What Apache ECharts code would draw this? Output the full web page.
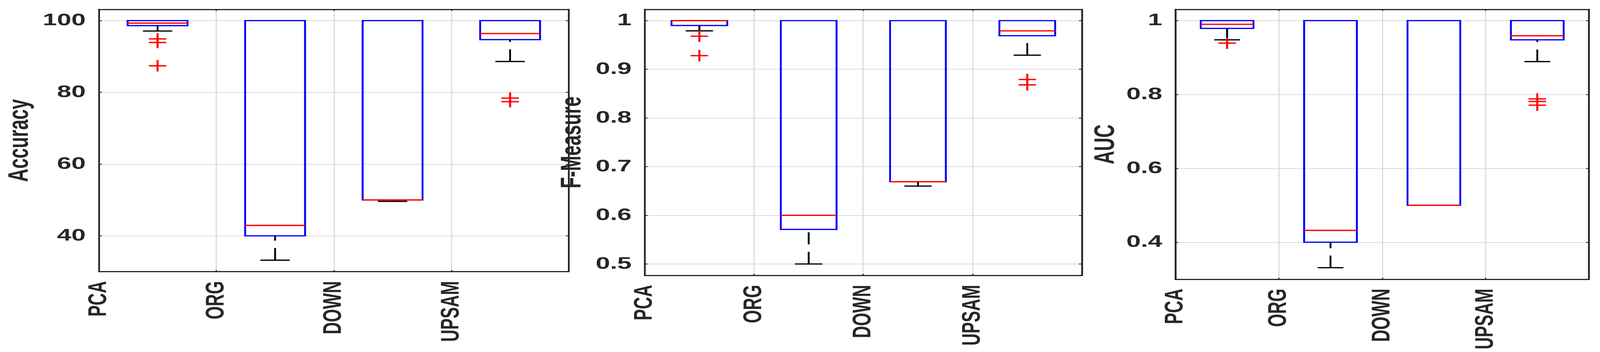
<!DOCTYPE html>
<html>
<head>
<meta charset="utf-8">
<script src="https://cdn.jsdelivr.net/npm/echarts@6/dist/echarts.min.js"></script>
<style>
html, body { margin: 0; padding: 0; background: #ffffff; overflow: hidden; }
#wrap { width: 100vw; height: 100vh; overflow: hidden; }
#chart { width: 2671px; height: 900px; transform-origin: 0 0; }
</style>
</head>
<body>
<div id="wrap"><div id="chart"></div></div>
<script>
// ---------- data ----------
const categories = ['PCA', 'ORG', 'DOWN', 'UPSAM'];
const yAxisNames = ['Accuracy', 'F-Measure', 'AUC'];

// each box: [lower whisker, Q1, median, Q3, upper whisker]
const accuracyBoxes = [
  [97.1, 98.6, 99.3, 100, 100],
  [33.2, 40.0, 42.9, 100, 100],
  [49.6, 50.0, 50.0, 100, 100],
  [88.6, 94.7, 96.4, 100, 100]
];
// outliers: [category index, value]
const accuracyOutliers = [[0, 94.9], [0, 93.9], [0, 87.4], [3, 78.4], [3, 77.4]];

const fMeasureBoxes = [
  [0.979, 0.990, 1.000, 1.0, 1.0],
  [0.500, 0.571, 0.600, 1.0, 1.0],
  [0.660, 0.669, 0.669, 1.0, 1.0],
  [0.929, 0.969, 0.979, 1.0, 1.0]
];
const fMeasureOutliers = [[0, 0.968], [0, 0.928], [3, 0.879], [3, 0.868]];

const aucBoxes = [
  [0.948, 0.979, 0.990, 1.0, 1.0],
  [0.331, 0.400, 0.432, 1.0, 1.0],
  [0.500, 0.500, 0.500, 1.0, 1.0],
  [0.889, 0.948, 0.959, 1.0, 1.0]
];
const aucOutliers = [[0, 0.939], [3, 0.788], [3, 0.781], [3, 0.771]];

// axis ranges
const yMins = [30, 0.4764, 0.2997];
const yMaxs = [103.13, 1.0231, 1.0304];
const ySplits = [4, 5, 4];

// ---------- layout / style ----------
const BASE_W = 2671, BASE_H = 900;
const grids = [
  { left: 165, top: 24, width: 784.6, height: 670.6 },
  { left: 1076.3, top: 24, width: 729.8, height: 680.3 },
  { left: 1962.2, top: 24, width: 690.4, height: 690 }
];
const nameGaps = [108, 97, 92];
const TXT = '#262626';
const FONT = 'Liberation Sans, Arial, Helvetica, sans-serif';

const el = document.getElementById('chart');
const vw = window.innerWidth || document.documentElement.clientWidth || 4194;
const vh = window.innerHeight || document.documentElement.clientHeight || 900;
el.style.transform = 'scale(' + (vw / BASE_W) + ',' + (vh / BASE_H) + ')';

const chart = echarts.init(el, null, { renderer: 'canvas', width: BASE_W, height: BASE_H, devicePixelRatio: 2 });

function renderBox(params, api) {
  const x = api.value(0);
  const vals = [api.value(1), api.value(2), api.value(3), api.value(4), api.value(5)];
  const p = vals.map(v => api.coord([x, v]));
  const band = api.size([1, 0])[0];
  const boxW = band * 0.51;
  const capW = band * 0.25;
  const cx = p[1][0];
  const children = [];
  const whiskerStyle = { stroke: '#000000', lineWidth: 3.1, lineDash: [31, 19], fill: null };
  const capStyle = { stroke: '#000000', lineWidth: 3.2, fill: null };
  if (p[0][1] - p[1][1] > 0.5) {
    children.push({ type: 'line', shape: { x1: cx, y1: p[0][1], x2: cx, y2: p[1][1] }, style: whiskerStyle });
    children.push({ type: 'line', shape: { x1: cx - capW / 2, y1: p[0][1], x2: cx + capW / 2, y2: p[0][1] }, style: capStyle });
  }
  if (p[3][1] - p[4][1] > 0.5) {
    children.push({ type: 'line', shape: { x1: cx, y1: p[4][1], x2: cx, y2: p[3][1] }, style: whiskerStyle });
    children.push({ type: 'line', shape: { x1: cx - capW / 2, y1: p[4][1], x2: cx + capW / 2, y2: p[4][1] }, style: capStyle });
  }
  children.push({
    type: 'rect',
    shape: { x: cx - boxW / 2, y: p[3][1], width: boxW, height: p[1][1] - p[3][1] },
    style: { fill: null, stroke: '#0000FF', lineWidth: 3.1 }
  });
  children.push({
    type: 'line',
    shape: { x1: cx - boxW / 2, y1: p[2][1], x2: cx + boxW / 2, y2: p[2][1] },
    style: { stroke: '#FF0000', lineWidth: 3.3, fill: null }
  });
  return { type: 'group', children };
}

function renderPlus(params, api) {
  const pt = api.coord([api.value(0), api.value(1)]);
  const h = 14.6;
  const st = { stroke: '#FF0000', lineWidth: 3.4, fill: null };
  return {
    type: 'group',
    children: [
      { type: 'line', shape: { x1: pt[0] - h, y1: pt[1], x2: pt[0] + h, y2: pt[1] }, style: st },
      { type: 'line', shape: { x1: pt[0], y1: pt[1] - h, x2: pt[0], y2: pt[1] + h }, style: st }
    ]
  };
}

const allBoxes = [accuracyBoxes, fMeasureBoxes, aucBoxes];
const allOutliers = [accuracyOutliers, fMeasureOutliers, aucOutliers];

const option = { animation: false, backgroundColor: '#ffffff', grid: [], xAxis: [], yAxis: [], series: [] };

grids.forEach((g, i) => {
  option.grid.push(Object.assign({ containLabel: false, outerBoundsMode: 'none' }, g));
  const lineStyle = { color: TXT, width: 3 };
  option.xAxis.push({
    type: 'value', gridIndex: i, min: 0, max: 4, interval: 1, position: 'bottom',
    axisLine: { show: true, onZero: false, lineStyle },
    axisTick: { show: true, inside: true, length: 4, lineStyle: { color: TXT, width: 2 } },
    axisLabel: {
      show: true, rotate: 90, margin: 24, fontSize: 43, fontWeight: 'bold', fontFamily: FONT, color: TXT,
      formatter: v => (categories[Math.round(v)] !== undefined ? categories[Math.round(v)] : '')
    },
    splitLine: { show: true, lineStyle: { color: '#DCDCDC', width: 2 } }
  });
  option.xAxis.push({
    type: 'value', gridIndex: i, min: 0, max: 4, interval: 1, position: 'top',
    axisLine: { show: true, onZero: false, lineStyle },
    axisTick: { show: true, inside: true, length: 4, lineStyle: { color: TXT, width: 2 } },
    axisLabel: { show: false }, splitLine: { show: false }
  });
  option.yAxis.push({
    type: 'value', gridIndex: i, min: yMins[i], max: yMaxs[i], splitNumber: ySplits[i], position: 'left',
    name: yAxisNames[i], nameLocation: 'middle', nameGap: nameGaps[i],
    nameTextStyle: { fontSize: 47, fontWeight: 'bold', fontFamily: FONT, color: TXT },
    axisLine: { show: true, onZero: false, lineStyle },
    axisTick: { show: true, inside: true, length: 5, lineStyle: { color: TXT, width: 2 } },
    axisLabel: {
      show: true, margin: 22, fontSize: 43, fontWeight: 'bold', fontFamily: FONT, color: TXT,
      showMinLabel: false, showMaxLabel: false
    },
    splitLine: { show: true, lineStyle: { color: '#DCDCDC', width: 2 } }
  });
  option.yAxis.push({
    type: 'value', gridIndex: i, min: yMins[i], max: yMaxs[i], splitNumber: ySplits[i], position: 'right',
    axisLine: { show: true, onZero: false, lineStyle },
    axisTick: { show: true, inside: true, length: 5, lineStyle: { color: TXT, width: 2 } },
    axisLabel: { show: false, showMinLabel: false, showMaxLabel: false }, splitLine: { show: false }
  });

  option.series.push({
    type: 'custom', xAxisIndex: 2 * i, yAxisIndex: 2 * i,
    data: allBoxes[i].map((b, k) => [k + 0.5].concat(b)),
    encode: { x: 0, y: [1, 2, 3, 4, 5] },
    renderItem: renderBox, z: 3
  });
  option.series.push({
    type: 'custom', xAxisIndex: 2 * i, yAxisIndex: 2 * i,
    data: allOutliers[i].map(o => [o[0] + 0.5, o[1]]),
    encode: { x: 0, y: 1 },
    renderItem: renderPlus, z: 4
  });
});

chart.setOption(option);
</script>
</body>
</html>
